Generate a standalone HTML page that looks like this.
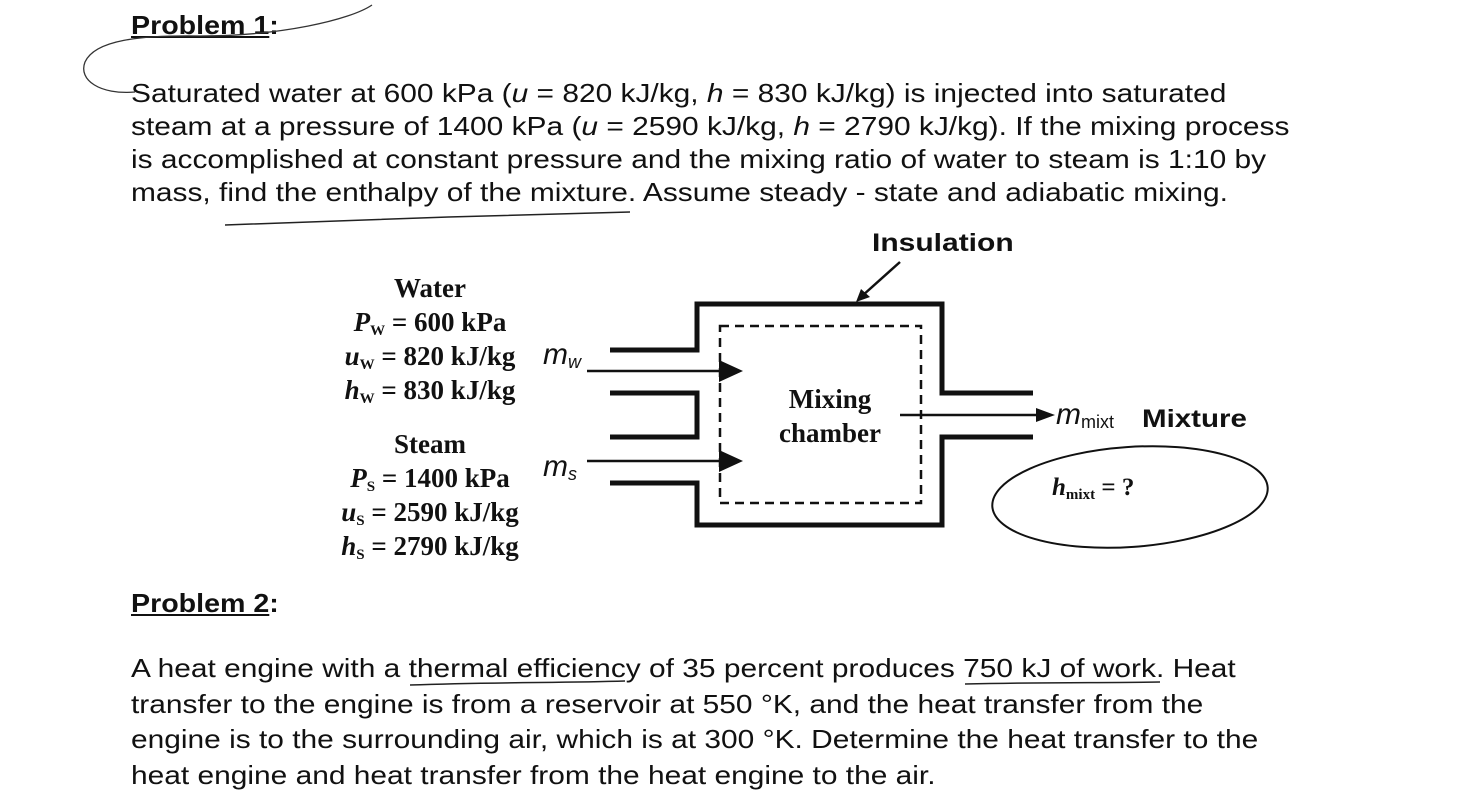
<!DOCTYPE html>
<html><head><style>
body{margin:0;width:1459px;height:807px;background:#fff;position:relative;overflow:hidden;font-family:"Liberation Sans",sans-serif;color:#111}
.t{position:absolute;white-space:nowrap;transform-origin:0 0}
.p{font-size:26px;line-height:33px;left:131px;transform:scaleX(1.15)}
.s{font-family:"Liberation Serif",serif;font-weight:bold;font-size:27px;line-height:33px;text-align:center;position:absolute;white-space:nowrap}
sub{font-size:15px;vertical-align:-4px}
</style></head><body>
<div class="t" style="left:131px;top:10px;font-size:26px;font-weight:bold;transform:scaleX(1.1)"><u>Problem 1</u>:</div>
<div class="t p" style="top:77px">Saturated water at 600 kPa (<i>u</i> = 820 kJ/kg, <i>h</i> = 830 kJ/kg) is injected into saturated<br>steam at a pressure of 1400 kPa (<i>u</i> = 2590 kJ/kg, <i>h</i> = 2790 kJ/kg). If the mixing process<br>is accomplished at constant pressure and the mixing ratio of water to steam is 1:10 by<br>mass, find the enthalpy of the mixture. Assume steady - state and adiabatic mixing.</div>
<div class="t" style="left:872px;top:229px;font-size:25px;font-weight:bold;transform:scaleX(1.2)">Insulation</div>
<div class="s" style="left:330px;top:272px;width:200px">Water</div>
<div class="s" style="left:330px;top:306px;width:200px"><i>P</i><sub>W</sub> = 600 kPa</div>
<div class="s" style="left:330px;top:340px;width:200px"><i>u</i><sub>W</sub> = 820 kJ/kg</div>
<div class="s" style="left:330px;top:374px;width:200px"><i>h</i><sub>W</sub> = 830 kJ/kg</div>
<div class="s" style="left:330px;top:428px;width:200px">Steam</div>
<div class="s" style="left:330px;top:462px;width:200px"><i>P</i><sub>S</sub> = 1400 kPa</div>
<div class="s" style="left:330px;top:496px;width:200px"><i>u</i><sub>S</sub> = 2590 kJ/kg</div>
<div class="s" style="left:330px;top:530px;width:200px"><i>h</i><sub>S</sub> = 2790 kJ/kg</div>
<div class="t" style="left:543px;top:338px;font-size:30px;font-style:italic">m<sub style="font-size:18px">w</sub></div>
<div class="t" style="left:543px;top:450px;font-size:30px;font-style:italic">m<sub style="font-size:18px">s</sub></div>
<div class="t" style="left:1056px;top:398px;font-size:30px;font-style:italic">m<sub style="font-size:18px;font-style:normal">mixt</sub></div>
<div class="t" style="left:1142px;top:405px;font-size:25px;font-weight:bold;transform:scaleX(1.18)">Mixture</div>
<div class="t" style="left:1052px;top:474px;font-family:'Liberation Serif',serif;font-weight:bold;font-size:25px"><i>h</i><sub>mixt</sub> = ?</div>
<div class="s" style="left:750px;top:382px;width:160px;line-height:34px">Mixing<br>chamber</div>
<svg width="1459" height="807" style="position:absolute;left:0;top:0">
<g fill="none" stroke="#111" stroke-width="5">
<polyline points="610,350 697,350 697,304 942,304 942,393 1033,393"/>
<polyline points="610,393 697,393 697,437 610,437"/>
<polyline points="610,483 697,483 697,525 942,525 942,437 1033,437"/>
</g>
<rect x="720" y="326" width="201" height="177" fill="none" stroke="#111" stroke-width="2.5" stroke-dasharray="9,6"/>
<g stroke="#111" stroke-width="2.5">
<line x1="587" y1="371" x2="720" y2="371"/><line x1="587" y1="461" x2="720" y2="461"/>
<line x1="900" y1="415" x2="1040" y2="415"/><line x1="900" y1="262" x2="862" y2="296"/>
</g>
<g fill="#111">
<polygon points="743,371 719,360 719,382"/><polygon points="743,461 719,450 719,472"/>
<polygon points="1055,415 1036,408 1036,422"/><polygon points="856,302 861,289 870,297"/>
</g>
<ellipse cx="1130" cy="497" rx="138" ry="50" fill="none" stroke="#111" stroke-width="2" transform="rotate(-4 1130 497)"/>
<path d="M135,92 C100,95 78,80 85,62 C95,40 140,35 200,36 C280,36 350,20 372,5" fill="none" stroke="#333" stroke-width="1.3"/>
<path d="M225,225 C350,220 500,215 630,212" fill="none" stroke="#222" stroke-width="1.5"/>
<path d="M410,685 C500,682 560,683 625,681 M965,684 C1050,682 1100,683 1160,682" fill="none" stroke="#222" stroke-width="1.5"/>
</svg>
<div class="t" style="left:131px;top:588px;font-size:26px;font-weight:bold;transform:scaleX(1.1)"><u>Problem 2</u>:</div>
<div class="t p" style="top:651px;line-height:35.5px">A heat engine with a thermal efficiency of 35 percent produces 750 kJ of work. Heat<br>transfer to the engine is from a reservoir at 550 °K, and the heat transfer from the<br>engine is to the surrounding air, which is at 300 °K. Determine the heat transfer to the<br>heat engine and heat transfer from the heat engine to the air.</div>
</body></html>
